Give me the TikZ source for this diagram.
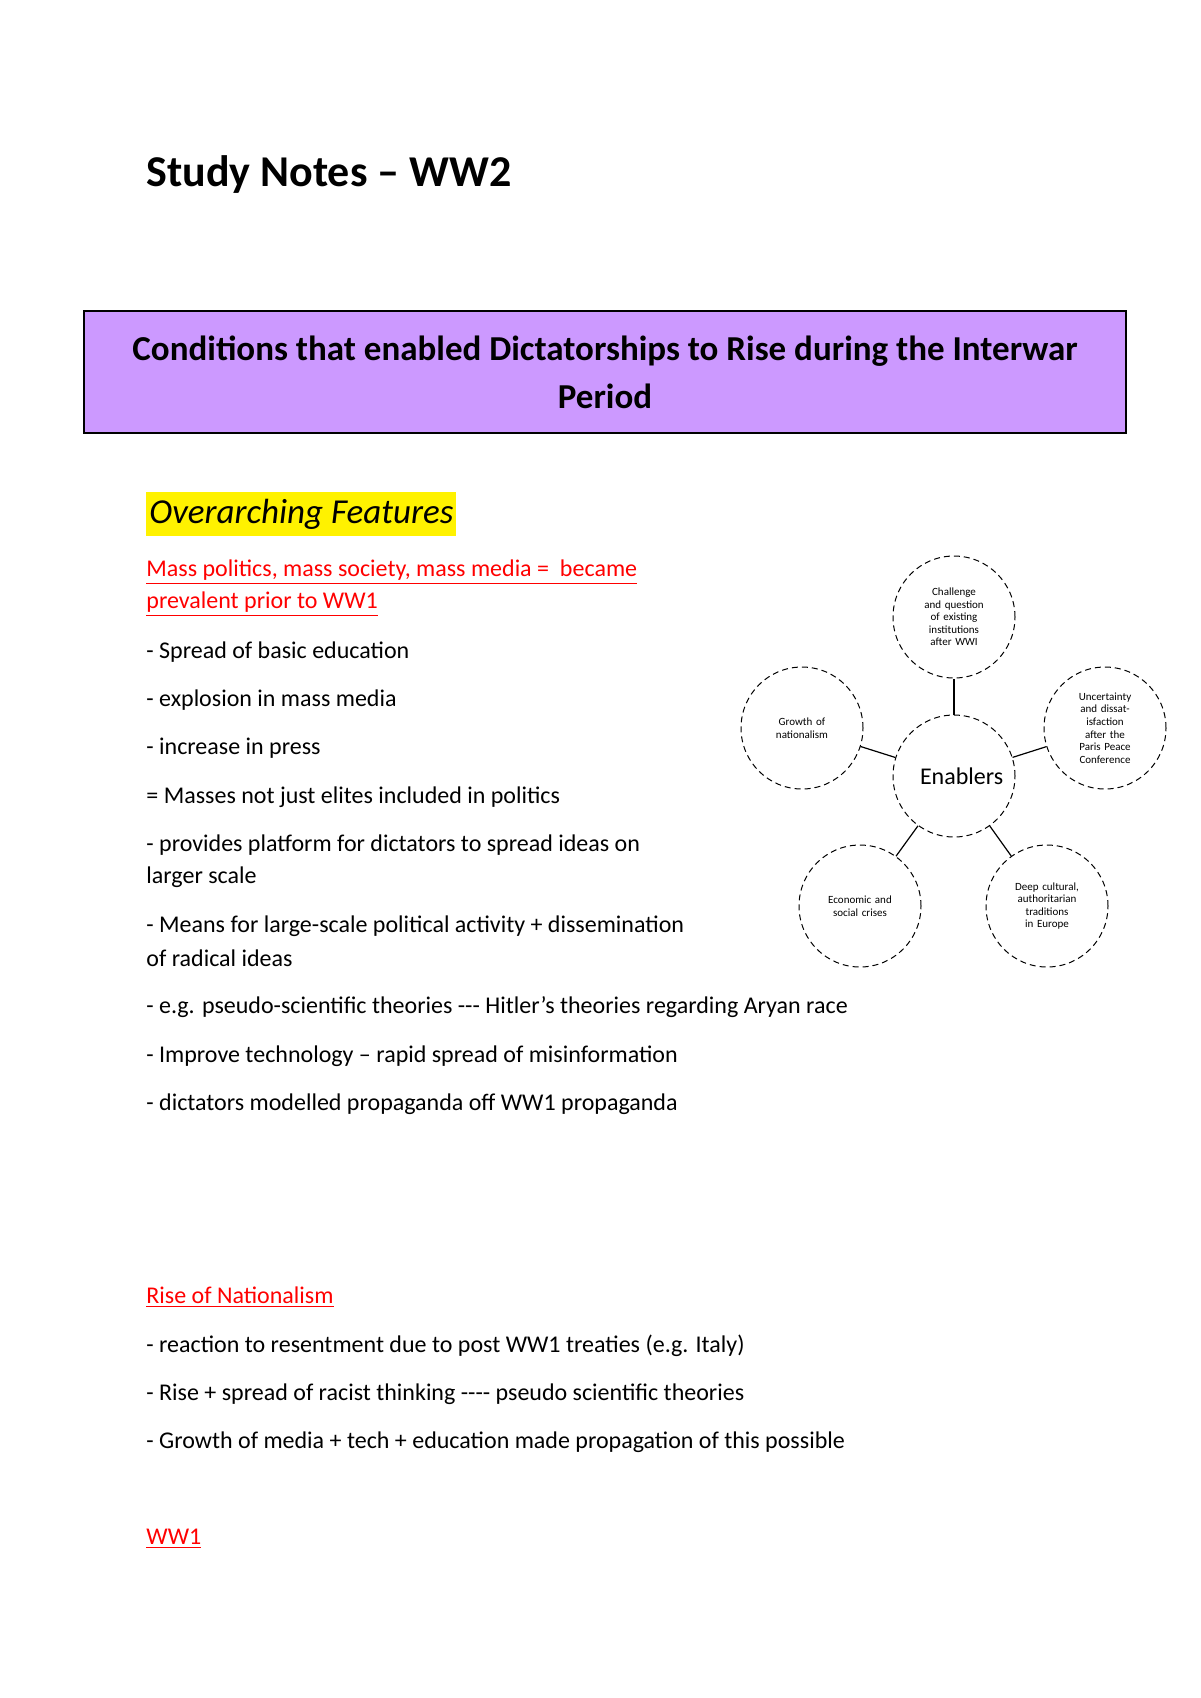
\documentclass[tikz,border=0pt]{standalone}
\usepackage{fontspec}
\setmainfont{Carlito}
\begin{document}
\begin{tikzpicture}[x=0.5pt,y=-0.5pt,
  body/.style={anchor=west,inner sep=0pt,font=\fontsize{12}{14}\selectfont},
  red/.style={body,text=red},
  circ/.style={circle,draw,densely dashed,line width=0.5pt,minimum size=61pt,inner sep=0pt,align=center,font=\fontsize{5.5}{6.3}\selectfont,text width=34pt},
  link/.style={line width=0.6pt}]
\useasboundingbox (0,0) rectangle (1200,1698);
\node[anchor=west,inner sep=0pt,font=\bfseries\fontsize{22}{26}\selectfont] (t) at (146,175) {Study Notes – WW2};
\node[draw,line width=1.2pt,fill={rgb,255:red,204;green,153;blue,255},minimum width=521pt,minimum height=61pt,align=center,font=\bfseries\fontsize{17.5}{24}\selectfont] (box) at (605,372) {Conditions that enabled Dictatorships to Rise during the Interwar\\Period};
\node[anchor=west,fill=yellow,inner sep=1.5pt,font=\itshape\fontsize{17.5}{20}\selectfont,minimum height=22pt] (of) at (146,514) {Overarching Features};
\node[red] (r1) at (146,572) {\underline{Mass politics, mass society, mass media =\ \ became}};
\node[red] (r2) at (146,604) {\underline{prevalent prior to WW1}};
\node[body] (b1) at (146,652) {- Spread of basic education};
\node[body] (b2) at (146,700) {- explosion in mass media};
\node[body] (b3) at (146,748) {- increase in press};
\node[body] (b4) at (146,797) {= Masses not just elites included in politics};
\node[body] (b5) at (146,845) {- provides platform for dictators to spread ideas on};
\node[body] (b6) at (146,877) {larger scale};
\node[body] (b7) at (146,926) {- Means for large-scale political activity + dissemination};
\node[body] (b8) at (146,958) {of radical ideas};
\node[body] (b9) at (146,1007) {- e.g. pseudo-scientific theories {-}{-}{-} Hitler’s theories regarding Aryan race};
\node[body] (b10) at (146,1056) {- Improve technology – rapid spread of misinformation};
\node[body] (b11) at (146,1104) {- dictators modelled propaganda off WW1 propaganda};
\node[red] (r3) at (146,1297) {\underline{Rise of Nationalism}};
\node[body] (c1) at (146,1346) {- reaction to resentment due to post WW1 treaties (e.g. Italy)};
\node[body] (c2) at (146,1394) {- Rise + spread of racist thinking {-}{-}{-}{-} pseudo scientific theories};
\node[body] (c3) at (146,1442) {- Growth of media + tech + education made propagation of this possible};
\node[red] (r4) at (146,1539) {\underline{WW1}};
% diagram
\node[circ,font=\fontsize{12}{14}\selectfont] (en) at (954,776) {Enablers};
\node[circ] (top) at (954,617) {Challenge and question of existing institutions after WWI};
\node[circ] (lft) at (802,728) {Growth of nationalism\\[10pt]};
\node[circ] (rgt) at (1105,728) {Uncertainty and dissatisfaction after the Paris Peace Conference};
\node[circ] (bl) at (860,906) {Economic and social crises\\[6pt]};
\node[circ] (br) at (1047,906) {Deep cultural, authoritarian traditions in Europe};
\draw[link] (en) -- (top);
\draw[link] (en) -- (lft);
\draw[link] (en) -- (rgt);
\draw[link] (en) -- (bl);
\draw[link] (en) -- (br);
\end{tikzpicture}
\end{document}
